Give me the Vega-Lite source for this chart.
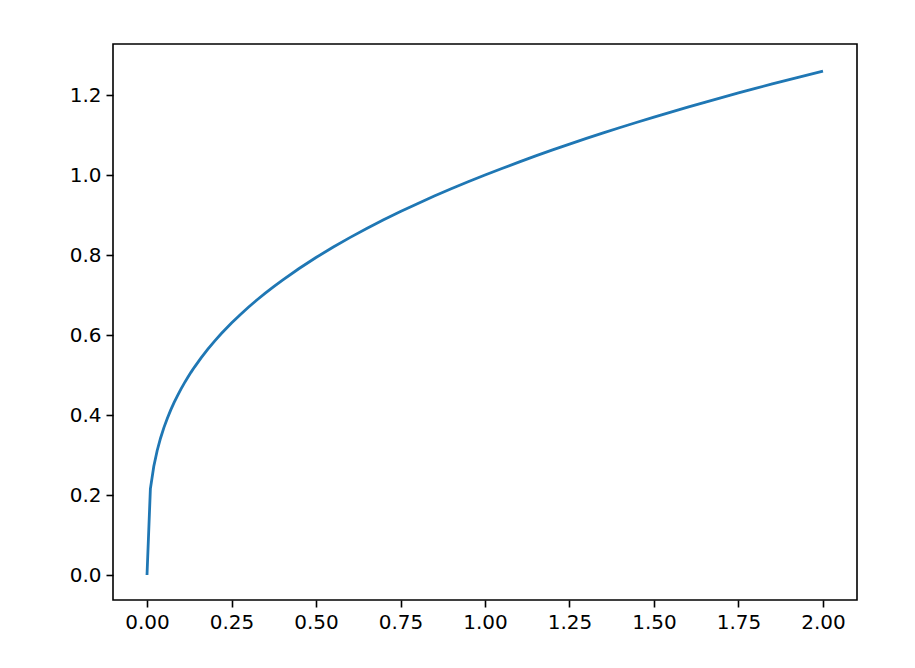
{
  "$schema": "https://vega.github.io/schema/vega-lite/v6.json",
  "description": "Cube root curve",
  "width": 744,
  "height": 556,
  "autosize": {"type": "none"},
  "padding": {"left": 113, "top": 44, "right": 58, "bottom": 68},
  "background": "white",
  "config": {
    "view": {"stroke": "#000000", "strokeWidth": 1.6},
    "axis": {
      "grid": false,
      "domain": false,
      "tickColor": "#000000",
      "tickSize": 7,
      "tickWidth": 1.6,
      "labelFont": "DejaVu Sans",
      "labelFontSize": 20,
      "labelColor": "#000000",
      "labelPadding": 5,
      "title": null
    }
  },
  "data": {
    "values": [
      {"x": 0, "y": 0},
      {"x": 0.01, "y": 0.2154},
      {"x": 0.02, "y": 0.2714},
      {"x": 0.03, "y": 0.3107},
      {"x": 0.04, "y": 0.342},
      {"x": 0.05, "y": 0.3684},
      {"x": 0.06, "y": 0.3915},
      {"x": 0.07, "y": 0.4121},
      {"x": 0.08, "y": 0.4309},
      {"x": 0.09, "y": 0.4481},
      {"x": 0.1, "y": 0.4642},
      {"x": 0.11, "y": 0.4791},
      {"x": 0.12, "y": 0.4932},
      {"x": 0.13, "y": 0.5066},
      {"x": 0.14, "y": 0.5192},
      {"x": 0.16, "y": 0.5429},
      {"x": 0.18, "y": 0.5646},
      {"x": 0.2, "y": 0.5848},
      {"x": 0.22, "y": 0.6037},
      {"x": 0.25, "y": 0.63},
      {"x": 0.275, "y": 0.6502},
      {"x": 0.3, "y": 0.6694},
      {"x": 0.325, "y": 0.6875},
      {"x": 0.35, "y": 0.7047},
      {"x": 0.375, "y": 0.7211},
      {"x": 0.4, "y": 0.7368},
      {"x": 0.45, "y": 0.7663},
      {"x": 0.5, "y": 0.7937},
      {"x": 0.55, "y": 0.8193},
      {"x": 0.6, "y": 0.8434},
      {"x": 0.65, "y": 0.8662},
      {"x": 0.7, "y": 0.8879},
      {"x": 0.75, "y": 0.9086},
      {"x": 0.8, "y": 0.9283},
      {"x": 0.85, "y": 0.9473},
      {"x": 0.9, "y": 0.9655},
      {"x": 0.95, "y": 0.983},
      {"x": 1.0, "y": 1.0},
      {"x": 1.05, "y": 1.0164},
      {"x": 1.1, "y": 1.0323},
      {"x": 1.15, "y": 1.0477},
      {"x": 1.2, "y": 1.0627},
      {"x": 1.25, "y": 1.0772},
      {"x": 1.3, "y": 1.0914},
      {"x": 1.35, "y": 1.1052},
      {"x": 1.4, "y": 1.1187},
      {"x": 1.45, "y": 1.1319},
      {"x": 1.5, "y": 1.1447},
      {"x": 1.55, "y": 1.1573},
      {"x": 1.6, "y": 1.1696},
      {"x": 1.65, "y": 1.1817},
      {"x": 1.7, "y": 1.1935},
      {"x": 1.75, "y": 1.2051},
      {"x": 1.8, "y": 1.2164},
      {"x": 1.85, "y": 1.2277},
      {"x": 1.9, "y": 1.2386},
      {"x": 1.95, "y": 1.2493},
      {"x": 2.0, "y": 1.2599}
    ]
  },
  "mark": {"type": "line", "color": "#1f77b4", "strokeWidth": 2.8},
  "encoding": {
    "x": {
      "field": "x",
      "type": "quantitative",
      "scale": {"domain": [-0.1006, 2.1006], "nice": false, "zero": false},
      "axis": {"values": [0, 0.25, 0.5, 0.75, 1, 1.25, 1.5, 1.75, 2], "format": ".2f"}
    },
    "y": {
      "field": "y",
      "type": "quantitative",
      "scale": {"domain": [-0.0625, 1.3275], "nice": false, "zero": false},
      "axis": {"values": [0, 0.2, 0.4, 0.6, 0.8, 1.0, 1.2], "format": ".1f"}
    }
  }
}
